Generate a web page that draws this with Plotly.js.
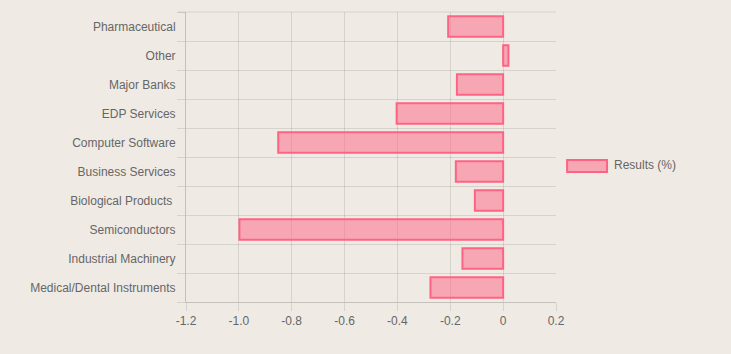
<!DOCTYPE html>
<html>
<head>
<meta charset="utf-8">
<script src="https://cdn.plot.ly/plotly-3.0.1.min.js"></script>
<style>
html,body{margin:0;padding:0;background:#EFEBE4;}
#chart{width:731px;height:354px;}
</style>
</head>
<body>
<div id="chart"></div>
<script>
const categories = ["Pharmaceutical","Other","Major Banks","EDP Services","Computer Software","Business Services","Biological Products ","Semiconductors","Industrial Machinery","Medical/Dental Instruments"];
const results = [-0.208, 0.02, -0.175, -0.403, -0.851, -0.179, -0.107, -0.998, -0.154, -0.275];
const seriesName = "Results (%)";
const xTickVals = [-1.2,-1.0,-0.8,-0.6,-0.4,-0.2,0,0.2];
const xTickText = ["-1.2","-1.0","-0.8","-0.6","-0.4","-0.2","0","0.2"];

const bg = "#EFEBE4";
const grid = "rgba(0,0,0,0.1)";
const fill = "rgba(255,99,132,0.5)";
const line = "rgb(255,99,132)";
const font = {family:"Liberation Sans, Arial, Helvetica, sans-serif", size:12, color:"#666"};

const idx = categories.map((c,i)=>i);
const bounds = categories.map((c,i)=>i-0.5).concat([categories.length-0.5]);

const trace = {
  type:"bar", orientation:"h",
  x: results, y: idx, name: seriesName, text: categories,
  marker:{color:fill, line:{color:line, width:2}},
  showlegend:false, hoverinfo:"x+text", textposition:"none"
};

const layout = {
  width:731, height:354,
  paper_bgcolor:bg, plot_bgcolor:bg,
  font: font,
  margin:{l:186, r:175, t:12, b:52},
  bargap:0.29,
  xaxis:{
    range:[-1.2,0.2], tickvals:xTickVals, ticktext:xTickText,
    showgrid:true, gridcolor:grid, gridwidth:1,
    zeroline:false, showline:true, linecolor:"rgba(0,0,0,0.18)", linewidth:1,
    ticks:"outside", ticklen:8, tickcolor:grid, tickfont:font, mirror:false
  },
  yaxis:{
    range:[categories.length-0.5,-0.5],
    tickmode:"array", tickvals:idx, ticktext:categories,
    showgrid:false, zeroline:false, showline:true, linecolor:"rgba(0,0,0,0.18)", linewidth:1,
    ticks:"", tickfont:font, ticklabelstandoff:7,
    minor:{tickmode:"array", tickvals:bounds, showgrid:true, gridcolor:grid, gridwidth:1,
           ticks:"outside", ticklen:8, tickcolor:grid}
  },
  shapes:[
    {type:"line", xref:"paper", yref:"paper", x0:-8/370, x1:1, y0:1, y1:1,
     line:{color:grid, width:1}},
    {type:"rect", xref:"paper", yref:"paper", x0:1.03, x1:1.138, y0:0.4897, y1:0.448,
     fillcolor:fill, line:{color:line, width:2}}
  ],
  annotations:[
    {xref:"paper", yref:"paper", x:1.151, y:0.4724, xanchor:"left", yanchor:"middle",
     text:seriesName, showarrow:false, font:font}
  ]
};

Plotly.newPlot("chart",[trace],layout,{displayModeBar:false, staticPlot:true});
</script>
</body>
</html>
